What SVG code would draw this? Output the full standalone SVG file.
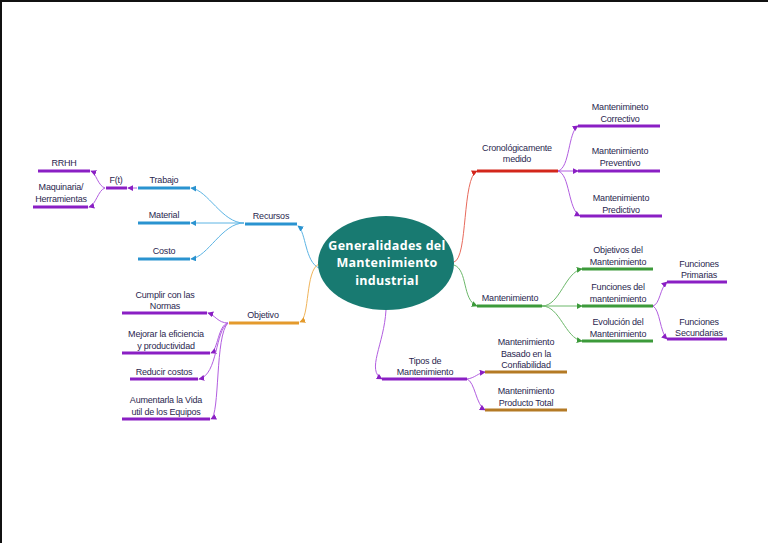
<svg xmlns="http://www.w3.org/2000/svg" width="768" height="543" viewBox="0 0 768 543">
<style>
.t{font-family:"Liberation Sans",Arial,sans-serif;font-size:9px;fill:#2b1f4f;text-anchor:middle;letter-spacing:-0.2px}
.c{fill:none;stroke-width:1}
.l{fill:none;stroke-width:3}
.ct{font-family:"Open Sans","Liberation Sans",sans-serif;font-size:12.5px;font-weight:bold;fill:#ffffff;text-anchor:middle;letter-spacing:0.3px}
</style>
<defs>
<marker id="aB" viewBox="0 0 8 8" refX="7" refY="4" markerWidth="6" markerHeight="6" markerUnits="userSpaceOnUse" orient="auto"><path d="M0,0 L8,4 L0,8 Z" fill="#2a93d0"/></marker>
<marker id="aO" viewBox="0 0 8 8" refX="7" refY="4" markerWidth="6" markerHeight="6" markerUnits="userSpaceOnUse" orient="auto"><path d="M0,0 L8,4 L0,8 Z" fill="#e49a2c"/></marker>
<marker id="aP" viewBox="0 0 8 8" refX="7" refY="4" markerWidth="6" markerHeight="6" markerUnits="userSpaceOnUse" orient="auto"><path d="M0,0 L8,4 L0,8 Z" fill="#8a1fc4"/></marker>
<marker id="aR" viewBox="0 0 8 8" refX="7" refY="4" markerWidth="6" markerHeight="6" markerUnits="userSpaceOnUse" orient="auto"><path d="M0,0 L8,4 L0,8 Z" fill="#d3261b"/></marker>
<marker id="aG" viewBox="0 0 8 8" refX="7" refY="4" markerWidth="6" markerHeight="6" markerUnits="userSpaceOnUse" orient="auto"><path d="M0,0 L8,4 L0,8 Z" fill="#3c9a3a"/></marker>
</defs>
<rect x="0" y="0" width="768" height="543" fill="#ffffff"/>
<path d="M0,1 H768 M1,0 V543" stroke="#111111" stroke-width="2" fill="none"/>

<g id="connectors">
<path class="c" stroke="#5cb4e4" marker-end="url(#aB)" d="M319,268 C305,262 306,232 298,226"/>
<path class="c" stroke="#f0b45a" marker-end="url(#aO)" d="M319,264 C305,270 310,318 300,322"/>
<path class="c" stroke="#e86a5c" marker-end="url(#aR)" d="M454,262 C468,258 462,178 477,171"/>
<path class="c" stroke="#6cb86a" marker-end="url(#aG)" d="M454,265 C468,270 462,300 477,306"/>
<path class="c" stroke="#b25ee0" marker-end="url(#aP)" d="M386,310 C384,345 366,370 382,379"/>

<path class="c" stroke="#5cb4e4" marker-end="url(#aB)" d="M244,223 C222,223 208,190 191,188"/>
<path class="c" stroke="#5cb4e4" marker-end="url(#aB)" d="M244,223 L191,223"/>
<path class="c" stroke="#5cb4e4" marker-end="url(#aB)" d="M244,223 C222,223 208,257 191,259"/>
<path class="c" stroke="#b25ee0" marker-end="url(#aP)" d="M137,188 L128,188"/>
<path class="c" stroke="#b25ee0" marker-end="url(#aP)" d="M105,188 C98,186 96,173 91,171"/>
<path class="c" stroke="#b25ee0" marker-end="url(#aP)" d="M105,188 C98,190 96,205 89,207"/>

<path class="c" stroke="#b25ee0" marker-end="url(#aP)" d="M228,323 C218,323 215,315 208,313"/>
<path class="c" stroke="#b25ee0" marker-end="url(#aP)" d="M228,323 C218,325 218,350 211,353"/>
<path class="c" stroke="#b25ee0" marker-end="url(#aP)" d="M228,323 C215,330 218,375 199,379"/>
<path class="c" stroke="#b25ee0" marker-end="url(#aP)" d="M228,323 C215,335 220,415 211,419"/>

<path class="c" stroke="#b25ee0" marker-end="url(#aP)" d="M558,171 C570,168 568,132 578,126"/>
<path class="c" stroke="#b25ee0" marker-end="url(#aP)" d="M558,171 L578,171"/>
<path class="c" stroke="#b25ee0" marker-end="url(#aP)" d="M558,171 C570,174 568,210 580,216"/>

<path class="c" stroke="#6cb86a" marker-end="url(#aG)" d="M542,306 C560,306 565,272 582,269"/>
<path class="c" stroke="#6cb86a" marker-end="url(#aG)" d="M542,306 L582,306"/>
<path class="c" stroke="#6cb86a" marker-end="url(#aG)" d="M542,306 C560,306 565,338 582,341"/>
<path class="c" stroke="#b25ee0" marker-end="url(#aP)" d="M653,306 C660,304 660,288 667,282"/>
<path class="c" stroke="#b25ee0" marker-end="url(#aP)" d="M653,306 C660,310 660,332 667,339"/>

<path class="c" stroke="#b25ee0" marker-end="url(#aP)" d="M467,379 C475,378 478,373 485,372"/>
<path class="c" stroke="#b25ee0" marker-end="url(#aP)" d="M467,379 C475,382 476,405 485,410"/>
</g>

<g id="central">
<ellipse cx="386" cy="263" rx="68" ry="47" fill="#187a71"/>
<text class="ct" x="387" y="250">Generalidades del</text>
<text class="ct" x="387" y="267">Mantenimiento</text>
<text class="ct" x="387" y="285">industrial</text>
</g>

<g id="recursos"><path class="l" stroke="#2a93d0" d="M245,224 H297"/><text class="t" x="271" y="219">Recursos</text></g>
<g id="trabajo"><path class="l" stroke="#2a93d0" d="M138,188 H190"/><text class="t" x="164" y="183">Trabajo</text></g>
<g id="material"><path class="l" stroke="#2a93d0" d="M138,223 H190"/><text class="t" x="164" y="218">Material</text></g>
<g id="costo"><path class="l" stroke="#2a93d0" d="M138,259 H190"/><text class="t" x="164" y="254">Costo</text></g>
<g id="ft"><path class="l" stroke="#8a1fc4" d="M106,188 H127"/><text class="t" x="116" y="183">F(t)</text></g>
<g id="rrhh"><path class="l" stroke="#8a1fc4" d="M38,171 H90"/><text class="t" x="64" y="166">RRHH</text></g>
<g id="maquinaria"><path class="l" stroke="#8a1fc4" d="M33,207 H88"/><text class="t" x="61" y="190">Maquinaria/</text><text class="t" x="61" y="202">Herramientas</text></g>

<g id="objetivo"><path class="l" stroke="#e49a2c" d="M229,323 H299"/><text class="t" x="263" y="318">Objetivo</text></g>
<g id="cumplir"><path class="l" stroke="#8a1fc4" d="M122,313 H207"/><text class="t" x="165" y="298">Cumplir con las</text><text class="t" x="165" y="309">Normas</text></g>
<g id="mejorar"><path class="l" stroke="#8a1fc4" d="M122,353 H210"/><text class="t" x="166" y="337">Mejorar la eficiencia</text><text class="t" x="166" y="349">y productividad</text></g>
<g id="reducir"><path class="l" stroke="#8a1fc4" d="M130,379 H198"/><text class="t" x="164" y="375">Reducir costos</text></g>
<g id="aumentar"><path class="l" stroke="#8a1fc4" d="M122,419 H210"/><text class="t" x="166" y="403">Aumentarla la Vida</text><text class="t" x="166" y="415">util de los Equipos</text></g>

<g id="cronologicamente"><path class="l" stroke="#d3261b" d="M477,171 H558"/><text class="t" x="517" y="151">Cronológicamente</text><text class="t" x="517" y="162">medido</text></g>
<g id="correctivo"><path class="l" stroke="#8a1fc4" d="M578,126 H660"/><text class="t" x="620" y="110">Mantenimineto</text><text class="t" x="620" y="122">Correctivo</text></g>
<g id="preventivo"><path class="l" stroke="#8a1fc4" d="M578,171 H660"/><text class="t" x="620" y="154">Mantenimiento</text><text class="t" x="620" y="166">Preventivo</text></g>
<g id="predictivo"><path class="l" stroke="#8a1fc4" d="M580,216 H662"/><text class="t" x="621" y="201">Mantenimiento</text><text class="t" x="621" y="213">Predictivo</text></g>

<g id="mantenimiento"><path class="l" stroke="#3c9a3a" d="M477,306 H542"/><text class="t" x="510" y="301">Mantenimiento</text></g>
<g id="objetivos"><path class="l" stroke="#3c9a3a" d="M582,269 H653"/><text class="t" x="618" y="253">Objetivos del</text><text class="t" x="618" y="265">Mantenimiento</text></g>
<g id="funciones"><path class="l" stroke="#3c9a3a" d="M582,306 H653"/><text class="t" x="618" y="290">Funciones del</text><text class="t" x="618" y="302">mantenimiento</text></g>
<g id="evolucion"><path class="l" stroke="#3c9a3a" d="M582,341 H653"/><text class="t" x="618" y="325">Evolución del</text><text class="t" x="618" y="337">Mantenimiento</text></g>
<g id="primarias"><path class="l" stroke="#8a1fc4" d="M667,282 H727"/><text class="t" x="699" y="267">Funciones</text><text class="t" x="699" y="278">Primarias</text></g>
<g id="secundarias"><path class="l" stroke="#8a1fc4" d="M667,339 H727"/><text class="t" x="699" y="325">Funciones</text><text class="t" x="699" y="336">Secundarias</text></g>

<g id="tipos"><path class="l" stroke="#8a1fc4" d="M382,379 H467"/><text class="t" x="425" y="364">Tipos de</text><text class="t" x="425" y="375">Mantenimiento</text></g>
<g id="confiabilidad"><path class="l" stroke="#b47a25" d="M485,372 H567"/><text class="t" x="526" y="345">Mantenimiento</text><text class="t" x="526" y="357">Basado en la</text><text class="t" x="526" y="368">Confiabilidad</text></g>
<g id="productototal"><path class="l" stroke="#b47a25" d="M485,410 H567"/><text class="t" x="526" y="394">Mantenimiento</text><text class="t" x="526" y="406">Producto Total</text></g>
</svg>
